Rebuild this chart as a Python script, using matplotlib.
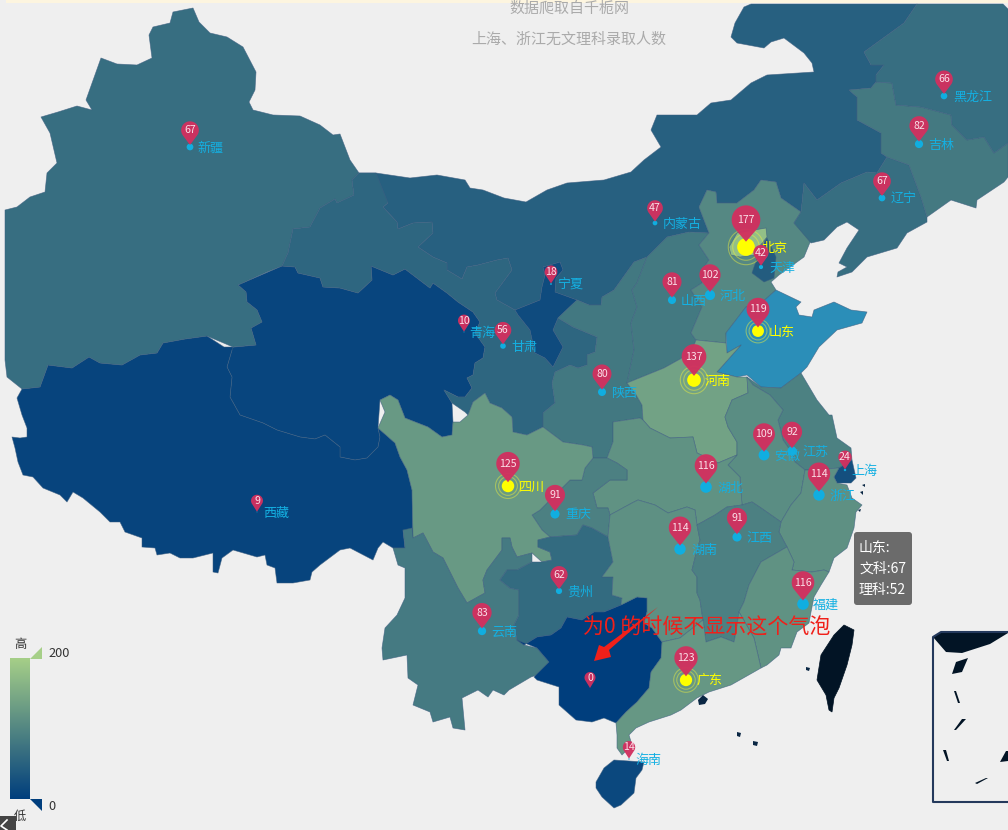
import matplotlib
matplotlib.use('Agg')
from matplotlib import pyplot as plt
from matplotlib.colors import LinearSegmentedColormap, Normalize
from matplotlib.patches import Polygon, Circle, FancyBboxPatch, Rectangle
import numpy as np

plt.rcParams['font.family'] = ['Noto Sans CJK SC', 'DejaVu Sans']

names = ['新疆', '西藏', '青海', '甘肃', '内蒙古', '宁夏', '陕西', '山西', '河北', '北京', '天津',
         '辽宁', '吉林', '黑龙江', '山东', '河南', '江苏', '安徽', '上海', '浙江', '湖北', '重庆',
         '四川', '贵州', '云南', '广西', '湖南', '江西', '福建', '广东', '海南']
values = [67, 9, 10, 56, 47, 18, 80, 81, 102, 177, 42,
          67, 82, 66, 119, 137, 92, 109, 24, 114, 116, 91,
          125, 62, 83, 0, 114, 91, 116, 123, 14]
effect_names = ['北京', '山东', '河南', '四川', '广东']
title_lines = ['数据爬取自千栀网', '上海、浙江无文理科录取人数']
tooltip_lines = ['山东:', '文科:67', '理科:52']
note_text = '为0 的时候不显示这个气泡'

# dot centre of each province in image pixels
pin_xy = {'新疆': (190, 147), '西藏': (257, 512), '青海': (464, 332), '甘肃': (503, 346), '内蒙古': (655, 223),
          '宁夏': (551, 284), '陕西': (602, 392), '山西': (672, 300), '河北': (710, 295), '北京': (746, 247),
          '天津': (761, 267), '辽宁': (882, 198), '吉林': (919, 144), '黑龙江': (944, 96), '山东': (758, 331),
          '河南': (694, 380), '江苏': (792, 451), '安徽': (764, 455), '上海': (845, 470), '浙江': (819, 495),
          '湖北': (706, 487), '重庆': (555, 514), '四川': (508, 486), '贵州': (559, 591), '云南': (482, 631),
          '广西': (590, 688), '湖南': (680, 549), '江西': (737, 537), '福建': (803, 604), '广东': (686, 680),
          '海南': (629, 759)}
label_x = {'新疆': 197, '西藏': 263, '青海': 469, '甘肃': 511, '内蒙古': 663, '宁夏': 557, '陕西': 611, '山西': 681,
           '河北': 720, '北京': 761, '天津': 769, '辽宁': 891, '吉林': 928, '黑龙江': 953, '山东': 769, '河南': 705,
           '江苏': 802, '安徽': 774, '上海': 851, '浙江': 830, '湖北': 717, '重庆': 565, '四川': 519, '贵州': 567,
           '云南': 491, '湖南': 691, '江西': 746, '福建': 813, '广东': 697, '海南': 635}

# province outlines
shapes = {
    '青海': [(238,285),(282,266),(295,267),(298,273),(320,278),(323,287),(340,288),(358,293),(372,280),(371,266),(393,275),(405,269),(430,288),(433,283),(447,293),(458,302),(473,312),(480,322),(475,333),(485,347),(483,358),(475,363),(473,375),(467,378),(472,388),(465,397),(458,397),(444,390),(452,403),(453,422),(452,435),(442,437),(428,427),(405,418),(398,400),(390,395),(380,400),(378,428),(380,437),(378,447),(367,458),(355,460),(340,457),(340,447),(325,435),(315,439),(300,437),(277,430),(263,423),(240,415),(230,397),(232,377),(227,367),(232,350),(224,348),(256,345),(251,328),(262,322),(257,310),(247,302),(246,292)],
    '西藏': [(22,389),(40,387),(48,365),(72,368),(89,357),(100,363),(122,365),(140,355),(157,353),(163,343),(185,339),(207,336),(224,347),(233,347),(232,350),(227,367),(232,377),(230,397),(240,415),(263,423),(277,430),(300,437),(315,439),(325,435),(340,447),(340,457),(355,460),(367,458),(378,447),(380,437),(378,428),(395,443),(400,457),(407,470),(412,490),(413,538),(403,530),(405,548),(393,548),(383,542),(378,548),(373,560),(350,548),(340,550),(320,565),(312,572),(310,580),(293,583),(277,583),(275,568),(267,565),(265,555),(257,557),(233,550),(222,558),(218,573),(213,572),(213,553),(193,558),(180,558),(170,553),(157,555),(155,548),(142,547),(142,538),(125,532),(120,522),(110,522),(100,512),(83,498),(73,492),(67,502),(60,495),(43,488),(33,477),(23,475),(18,462),(15,448),(12,437),(20,438),(27,437),(27,428),(22,415),(17,398)],
    '新疆': [(5,210),(17,207),(30,197),(45,192),(47,173),(57,163),(50,133),(41,117),(58,112),(77,106),(92,110),(86,100),(101,58),(117,64),(137,65),(152,58),(149,35),(153,27),(170,23),(173,12),(193,8),(199,22),(210,33),(227,37),(243,47),(256,72),(255,90),(249,102),(253,110),(273,115),(300,116),(320,125),(333,135),(340,134),(350,160),(359,173),(352,180),(354,195),(337,203),(335,199),(320,208),(310,227),(293,229),(288,253),(282,266),(267,272),(238,285),(246,292),(247,302),(257,310),(262,322),(251,328),(256,345),(233,347),(207,336),(185,339),(163,343),(157,353),(140,355),(122,365),(100,363),(89,357),(72,368),(48,365),(40,387),(22,389),(7,377),(5,360)],
    '内蒙古': [(359,173),(376,173),(410,178),(437,175),(465,180),(470,188),(483,190),(504,198),(526,202),(547,190),(567,183),(604,180),(631,172),(644,160),(661,147),(651,130),(657,115),(681,115),(697,115),(711,103),(731,100),(751,83),(767,75),(814,72),(812,63),(804,53),(784,38),(771,42),(764,48),(737,43),(731,37),(735,23),(744,7),(751,4),(917,4),(904,23),(864,52),(871,65),(884,65),(876,75),(876,82),(871,88),(849,90),(857,97),(857,120),(881,133),(881,153),(887,157),(877,173),(867,172),(841,183),(817,200),(804,183),(802,203),(801,212),(781,198),(776,182),(761,180),(754,190),(737,203),(717,203),(716,192),(707,190),(699,207),(709,233),(689,232),(667,237),(647,257),(634,262),(614,290),(602,297),(601,305),(589,305),(577,300),(555,292),(556,278),(563,270),(560,262),(543,267),(545,275),(542,287),(540,300),(515,310),(497,300),(495,293),(512,270),(508,258),(497,260),(478,265),(467,267),(462,279),(447,270),(447,263),(433,257),(418,247),(433,233),(432,222),(413,223),(398,229),(397,222),(383,207),(388,203)],
    '甘肃': [(359,173),(376,173),(388,203),(383,207),(397,222),(398,229),(413,223),(432,222),(433,233),(418,247),(433,257),(447,263),(447,270),(462,279),(467,267),(478,265),(497,260),(508,258),(512,270),(495,293),(497,300),(515,310),(518,315),(530,330),(535,353),(545,358),(553,367),(563,347),(553,330),(558,318),(573,327),(597,337),(595,352),(587,355),(587,365),(578,368),(570,365),(555,372),(552,383),(555,403),(543,413),(543,427),(527,435),(513,432),(512,417),(502,408),(490,403),(485,393),(473,402),(468,415),(465,412),(452,403),(444,390),(458,397),(465,397),(472,388),(467,378),(473,375),(475,363),(483,358),(485,347),(475,333),(480,322),(473,312),(458,302),(447,293),(433,283),(430,288),(405,269),(393,275),(371,266),(372,280),(358,293),(340,288),(323,287),(320,278),(298,273),(295,267),(282,266),(288,253),(293,229),(310,227),(320,208),(335,199),(337,203),(354,195),(352,180)],
    '宁夏': [(560,262),(563,270),(556,278),(555,292),(577,300),(558,318),(553,330),(563,347),(553,367),(545,358),(535,353),(530,330),(518,315),(515,310),(540,300),(542,287),(545,275),(543,267)],
    '陕西': [(634,262),(647,257),(637,283),(632,290),(637,307),(631,323),(634,350),(627,383),(635,393),(642,405),(643,420),(640,418),(613,422),(613,442),(607,458),(593,458),(592,447),(583,445),(563,442),(543,427),(543,413),(555,403),(552,383),(555,372),(570,365),(578,368),(587,365),(587,355),(595,352),(597,337),(573,327),(558,318),(577,300),(589,305),(601,305),(602,297),(614,290)],
    '山西': [(709,233),(689,232),(667,237),(647,257),(637,283),(632,290),(637,307),(631,323),(634,350),(627,383),(664,368),(691,353),(696,340),(691,333),(702,307),(691,290),(702,283),(704,267),(709,260),(699,245)],
    '河北': [(699,207),(709,233),(699,245),(709,260),(704,267),(702,283),(691,290),(702,307),(691,333),(696,340),(726,343),(726,333),(746,307),(759,305),(776,290),(771,282),(779,275),(804,257),(811,240),(794,223),(801,212),(781,198),(776,182),(761,180),(754,190),(737,203),(717,203),(716,192),(707,190)],
    '北京': [(729,247),(737,233),(766,228),(767,237),(759,247),(755,255),(740,257),(731,255)],
    '天津': [(752,273),(754,267),(761,248),(767,238),(776,257),(774,278),(764,282)],
    '辽宁': [(887,157),(877,173),(867,172),(841,183),(817,200),(804,183),(802,203),(801,212),(794,223),(811,243),(824,240),(837,227),(847,222),(859,230),(847,248),(839,263),(847,267),(838,272),(837,277),(852,272),(867,257),(897,248),(907,233),(927,222),(927,217),(921,197),(909,165)],
    '吉林': [(849,90),(871,88),(876,82),(892,83),(896,105),(921,107),(951,115),(952,125),(967,140),(984,137),(994,153),(1008,143),(1008,177),(1004,182),(977,200),(976,208),(951,200),(927,217),(921,197),(909,165),(887,157),(881,153),(881,133),(857,120),(857,97)],
    '黑龙江': [(917,4),(1003,4),(1008,9),(1008,143),(994,153),(984,137),(967,140),(952,125),(951,115),(921,107),(896,105),(892,83),(876,82),(876,75),(884,65),(871,65),(864,52),(904,23)],
    '山东': [(747,375),(761,387),(781,388),(801,373),(807,367),(819,347),(837,330),(862,323),(867,312),(851,310),(834,302),(814,310),(812,317),(799,315),(796,307),(801,302),(776,290),(759,305),(746,307),(726,333),(727,353),(741,345),(717,372),(737,377)],
    '河南': [(627,383),(664,368),(691,353),(696,340),(726,343),(727,353),(741,345),(717,372),(737,377),(747,377),(748,393),(732,400),(725,417),(728,427),(737,442),(737,455),(718,463),(697,453),(693,437),(670,438),(650,428),(643,420),(642,405),(635,393)],
    '江苏': [(747,377),(761,387),(781,388),(801,373),(817,400),(829,415),(832,415),(837,438),(851,448),(852,460),(839,468),(815,470),(805,470),(795,462),(790,450),(783,440),(778,420),(783,410),(770,395),(753,385)],
    '安徽': [(747,377),(753,385),(770,395),(783,410),(778,420),(783,440),(790,450),(795,462),(805,470),(801,493),(791,505),(781,522),(761,508),(752,502),(742,505),(740,477),(728,465),(737,455),(737,442),(728,427),(725,417),(732,400),(748,393)],
    '上海': [(839,468),(852,460),(856,478),(851,483),(837,483),(834,477)],
    '浙江': [(781,522),(791,505),(801,493),(805,470),(815,470),(839,468),(834,477),(837,483),(847,485),(852,498),(862,505),(856,512),(854,528),(847,548),(834,558),(829,572),(824,570),(812,572),(792,570),(794,562),(787,547),(779,532)],
    '湖北': [(613,422),(640,418),(643,420),(650,428),(670,438),(693,437),(697,453),(718,463),(737,455),(728,465),(740,477),(742,505),(727,507),(715,515),(697,525),(695,510),(687,507),(668,513),(655,505),(638,500),(632,503),(610,515),(608,508),(597,508),(593,493),(610,480),(627,480),(627,470),(617,463),(607,458),(613,442)],
    '重庆': [(593,458),(607,458),(617,463),(627,470),(627,480),(610,480),(593,493),(597,508),(608,508),(610,515),(608,537),(592,528),(583,525),(577,535),(550,537),(542,530),(532,515),(540,510),(550,500),(570,480),(582,480),(585,468)],
    '四川': [(380,400),(390,395),(398,400),(405,418),(428,427),(442,437),(452,435),(453,422),(460,422),(468,415),(473,402),(485,393),(490,403),(502,408),(512,417),(513,432),(527,435),(543,427),(563,442),(583,445),(592,447),(593,458),(585,468),(582,480),(570,480),(550,500),(540,510),(532,515),(542,530),(550,537),(538,540),(538,547),(550,552),(552,560),(542,562),(532,553),(517,557),(512,547),(510,538),(502,538),(502,550),(487,570),(483,580),(485,593),(467,603),(458,588),(443,558),(433,552),(423,533),(413,538),(412,490),(407,470),(400,457),(395,443),(378,428),(385,412)],
    '云南': [(393,548),(398,565),(405,568),(405,598),(397,615),(385,628),(382,648),(383,660),(407,655),(408,678),(418,685),(413,705),(430,712),(433,722),(450,717),(453,728),(465,730),(462,698),(478,690),(488,697),(493,690),(504,695),(509,690),(531,677),(537,675),(549,662),(537,648),(524,645),(517,640),(514,625),(519,615),(519,590),(510,588),(500,580),(507,570),(517,570),(532,562),(532,553),(517,557),(512,547),(510,538),(502,538),(502,550),(487,570),(483,580),(485,593),(467,603),(458,588),(443,558),(433,552),(423,533),(413,538),(412,528),(403,530),(405,548)],
    '贵州': [(500,580),(507,570),(517,570),(532,562),(542,562),(552,560),(550,552),(538,547),(538,540),(550,537),(577,535),(583,525),(592,528),(608,537),(613,562),(602,577),(613,577),(612,595),(622,598),(621,605),(604,612),(594,612),(582,620),(567,617),(561,628),(551,635),(537,637),(524,645),(517,640),(514,625),(519,615),(519,590),(510,588)],
    '广西': [(517,640),(524,645),(537,637),(551,635),(561,628),(567,617),(582,620),(594,612),(604,612),(621,605),(637,597),(647,598),(647,612),(644,623),(652,628),(662,642),(661,658),(651,672),(649,688),(637,702),(626,712),(616,723),(604,718),(592,722),(576,720),(559,705),(559,687),(537,680),(534,677),(549,662),(537,648)],
    '湖南': [(610,515),(632,503),(638,500),(655,505),(668,513),(687,507),(695,510),(697,525),(700,540),(697,550),(692,570),(697,577),(697,593),(700,600),(703,620),(680,638),(662,642),(652,628),(644,623),(647,612),(647,598),(637,597),(621,605),(622,598),(612,595),(613,577),(602,577),(613,562),(608,537)],
    '江西': [(697,525),(715,515),(727,507),(742,505),(752,502),(761,508),(781,522),(779,532),(787,547),(761,562),(749,585),(744,602),(739,612),(736,632),(734,642),(721,637),(706,642),(703,620),(700,600),(697,593),(697,577),(692,570),(697,550),(700,540)],
    '福建': [(787,547),(794,562),(792,570),(812,572),(824,570),(829,572),(821,585),(814,597),(811,612),(809,623),(797,632),(791,648),(781,648),(779,655),(767,665),(761,668),(754,638),(739,612),(744,602),(749,585),(761,562)],
    '广东': [(662,642),(680,638),(703,620),(706,642),(721,637),(734,642),(736,632),(739,612),(754,638),(761,668),(754,672),(731,685),(709,692),(697,698),(681,710),(671,715),(649,722),(636,728),(629,735),(632,745),(622,755),(617,748),(617,735),(616,723),(626,712),(637,702),(649,688),(651,672),(661,658)],
    '海南': [(596,782),(604,768),(614,760),(644,762),(642,770),(636,778),(634,793),(621,805),(614,808),(602,797),(596,788)],
}
taiwan = [(844,625),(854,630),(852,645),(847,665),(839,688),(834,698),(832,712),(829,710),(826,695),(817,680),(821,655),(834,635)]
specks = [[(698,700),(703,695),(708,699),(705,704),(699,705)], [(806,667),(810,668),(809,671),(806,670)],
          [(737,732),(741,733),(740,737),(737,736)], [(753,741),(758,742),(757,746),(753,745)],
          [(862,485),(865,484),(865,487)], [(860,492),(863,491),(863,495)], [(858,510),(861,509),(860,512)]]
inset_shapes = [[(933,637),(941,632),(1008,632),(1008,633),(990,644),(962,653),(946,652)],
                [(956,662),(968,658),(962,672),(952,674)],
                [(954,691),(956,691),(960,703),(958,703)],
                [(962,719),(966,719),(956,730),(954,730)],
                [(943,750),(946,750),(949,761),(947,761)],
                [(1006,751),(1008,751),(1008,761),(1000,762)],
                [(988,778),(986,778),(975,783),(977,784)]]
arrow_shape = [(658,607),(609,650),(611,657),(594,661),(599,645),(604,647)]

cmap = LinearSegmentedColormap.from_list('legend', ['#003e7d', '#a6cf88'])
norm = Normalize(0, 200)
value_of = dict(zip(names, values))

fig = plt.figure(figsize=(10.08, 8.30), dpi=100, facecolor='#efefef')
ax = fig.add_axes([0, 0, 1, 1])
ax.set_facecolor('#efefef')

ax.add_patch(Rectangle((6, 0), 1002, 3, fc='#fdf5df', ec='none'))

for name, pts in shapes.items():
    color = '#2b8eb8' if name == '山东' else cmap(norm(value_of[name]))
    ax.add_patch(Polygon(pts, closed=True, fc=color, ec=(0.24, 0.37, 0.50, 0.7), lw=0.5, joinstyle='round', zorder=1))
ax.add_patch(Polygon(taiwan, closed=True, fc='#021425', ec='#021425', lw=0.5, zorder=1))
for pts in specks:
    ax.add_patch(Polygon(pts, closed=True, fc='#0a2744', ec='none', zorder=1))
for pts in inset_shapes:
    ax.add_patch(Polygon(pts, closed=True, fc='#021425', ec='none', zorder=1))
ax.plot([1008, 941, 933, 933, 1008], [632, 632, 637, 802, 802], color='#24395c', lw=1.5, zorder=1)

# dots, rings and province names
for name, value in zip(names, values):
    x, y = pin_xy[name]
    r = value / 20
    hot = name in effect_names
    if hot:
        for k in (1.5, 2.0):
            ax.add_patch(Circle((x, y), r * k, fc='none', ec='#f2f23c', lw=0.8, alpha=0.45, zorder=2))
    if value > 0:
        ax.add_patch(Circle((x, y), r, fc='#ffff00' if hot else '#10aee0', ec='none', zorder=2))
    if name in label_x:
        ax.text(label_x[name], y + 1, name, color='#ffff00' if hot else '#14b0e2', fontsize=9.4,
                va='center', ha='left', zorder=3)

# pins
for name, value in zip(names, values):
    x, y = pin_xy[name]
    w = 11 + 0.1 * value
    cy = y - 1.45 * w + w / 2
    tip = y - 0.6 * value / 20
    ang = np.radians(np.linspace(-40, 220, 50))
    head = np.column_stack([x + w / 2 * np.cos(ang), cy - w / 2 * np.sin(ang)])
    ax.add_patch(Polygon(np.vstack([head, [(x, tip)]]), closed=True, fc='#d1305f', ec='none', alpha=0.96, zorder=4))
    ax.text(x, cy, str(value), color='#fbe0e8', fontsize=7.6, ha='center', va='center', zorder=5)

ax.text(569, 9, title_lines[0], color='#aaaaaa', fontsize=10.8, ha='center', va='center', zorder=6)
ax.text(569, 39, title_lines[1], color='#aaaaaa', fontsize=10.8, ha='center', va='center', zorder=6)

# legend
ax.imshow(np.linspace(1, 0, 256).reshape(-1, 1), cmap=cmap, vmin=0, vmax=1, aspect='auto',
          extent=(10, 30, 799, 659), zorder=2)
ax.add_patch(Polygon([(30, 659), (42, 647), (42, 659)], closed=True, fc='#a6cf88', ec='none'))
ax.add_patch(Polygon([(30, 799), (42, 811), (42, 799)], closed=True, fc='#003e7d', ec='none'))
ax.text(20, 644, '高', color='#333333', fontsize=8.8, ha='center', va='center')
ax.text(20, 816, '低', color='#333333', fontsize=8.8, ha='center', va='center')
ax.text(48, 653, '200', color='#333333', fontsize=9.2, ha='left', va='center')
ax.text(48, 806, '0', color='#333333', fontsize=9.2, ha='left', va='center')
ax.add_patch(Rectangle((0, 816), 16, 14, fc='#444444', ec='none', zorder=3))
ax.plot([7, 1, 7], [820, 826, 830], color='white', lw=1.2, zorder=4)

# tooltip
ax.add_patch(FancyBboxPatch((856, 534), 54, 69, boxstyle='round,pad=2,rounding_size=3',
                            fc='#6b6b6b', ec='none', zorder=6))
for line, y in zip(tooltip_lines, (548, 569, 590)):
    ax.text(859, y, line, color='white', fontsize=10, ha='left', va='center', zorder=7)

# note and arrow
ax.text(583, 628, note_text, color='#f0201a', fontsize=15.1, ha='left', va='center', zorder=6)
ax.add_patch(Polygon(arrow_shape, closed=True, fc='#f0201a', ec='none', zorder=6))

ax.set_xlim(0, 1008)
ax.set_ylim(830, 0)
ax.axis('off')

fig.savefig('out.png', dpi=100, facecolor=fig.get_facecolor())
